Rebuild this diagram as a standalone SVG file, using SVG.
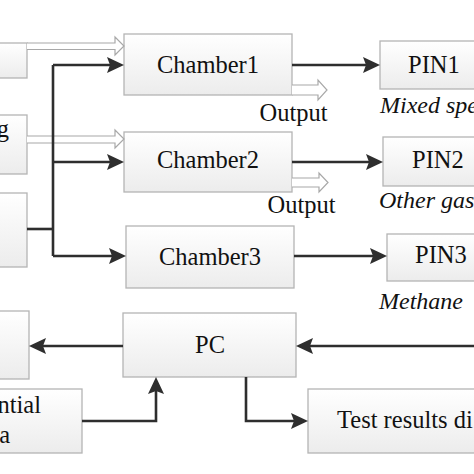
<svg xmlns="http://www.w3.org/2000/svg" width="474" height="474" viewBox="0 0 474 474">
<defs>
<linearGradient id="bg" x1="0" y1="0" x2="0" y2="1">
<stop offset="0" stop-color="#ffffff"/>
<stop offset="1" stop-color="#ececec"/>
</linearGradient>
<marker id="ah" viewBox="0 0 17 16" markerWidth="17" markerHeight="16" refX="7" refY="8" orient="auto" markerUnits="userSpaceOnUse">
<path d="M0,0 L17,8 L0,16 L3,8 z" fill="#2e2e2e"/>
</marker>
</defs>
<style>
.box{fill:url(#bg);stroke:#b4b4b4;stroke-width:1.3}
.t{font-family:"Liberation Serif","Times New Roman",serif;font-size:24.5px;fill:#111}
.it{font-family:"Liberation Serif","Times New Roman",serif;font-size:24px;font-style:italic;fill:#111}
.ln{fill:none;stroke:#2e2e2e;stroke-width:2.6}
.arr{fill:none;stroke:#2e2e2e;stroke-width:2.6;marker-end:url(#ah)}
.hol{fill:#fff;stroke:#a8a8a8;stroke-width:1.2}
</style>
<rect width="474" height="474" fill="#fff"/>

<g id="left1"><rect class="box" x="-10" y="43" width="37" height="35"/></g>
<g id="left2"><rect class="box" x="-10" y="115" width="37" height="59"/><text class="t" x="9" y="137" text-anchor="end">g</text></g>
<g id="left3"><rect class="box" x="-10" y="193" width="37" height="74"/></g>
<g id="left4"><rect class="box" x="-10" y="311" width="39" height="68"/></g>
<g id="left5"><rect class="box" x="-10" y="389" width="92" height="64"/><text class="t" x="41" y="413" text-anchor="end">ntial</text><text class="t" x="10" y="443" text-anchor="end">a</text></g>

<g id="chamber1"><rect class="box" x="124" y="34" width="168" height="61"/><text class="t" x="208" y="73" text-anchor="middle">Chamber1</text></g>
<g id="chamber2"><rect class="box" x="124" y="132" width="168" height="60"/><text class="t" x="208" y="168" text-anchor="middle">Chamber2</text></g>
<g id="chamber3"><rect class="box" x="126" y="226" width="168" height="62"/><text class="t" x="210" y="265" text-anchor="middle">Chamber3</text></g>

<g id="pin1"><rect class="box" x="380" y="41" width="110" height="48"/><text class="t" x="408" y="73">PIN1</text><text class="it" x="380" y="113">Mixed spe</text></g>
<g id="pin2"><rect class="box" x="383" y="137" width="110" height="49"/><text class="t" x="412" y="168">PIN2</text><text class="it" x="379" y="208">Other gas</text></g>
<g id="pin3"><rect class="box" x="387" y="234" width="110" height="47"/><text class="t" x="415" y="263">PIN3</text><text class="it" x="379" y="309">Methane</text></g>

<g id="pc"><rect class="box" x="123" y="313" width="173" height="64"/><text class="t" x="210" y="353" text-anchor="middle">PC</text></g>
<g id="test"><rect class="box" x="308" y="389" width="190" height="64"/><text class="t" x="337" y="428">Test results di</text></g>

<g id="outputs">
<text class="t" x="293.5" y="121" text-anchor="middle">Output</text>
<text class="t" x="301.5" y="213" text-anchor="middle">Output</text>
</g>

<g id="connectors">
<path class="hol" d="M27,43 H115 V37 L124,46 L115,55 V49.5 H27"/>
<path class="hol" d="M27,136 H115 V130 L124,139 L115,148 V143 H27"/>
<path class="hol" d="M292,85 H318 V80 L327,90 L318,100 V95 H292"/>
<path class="hol" d="M292,178 H319 V173 L328,182.5 L319,192 V187 H292"/>
<path class="ln" d="M53,65 V256"/>
<path class="ln" d="M27,229 H53"/>
<path class="arr" d="M53,65 H114"/>
<path class="arr" d="M53,162 H114"/>
<path class="arr" d="M53,256 H116"/>
<path class="arr" d="M292,65 H370"/>
<path class="arr" d="M292,162 H373"/>
<path class="arr" d="M294,256 H377"/>
<path class="arr" d="M123,346 H39"/>
<path class="arr" d="M474,346 H306"/>
<path class="arr" d="M82,421 H156 V387"/>
<path class="arr" d="M246,377 V421 H298"/>
</g>
</svg>
